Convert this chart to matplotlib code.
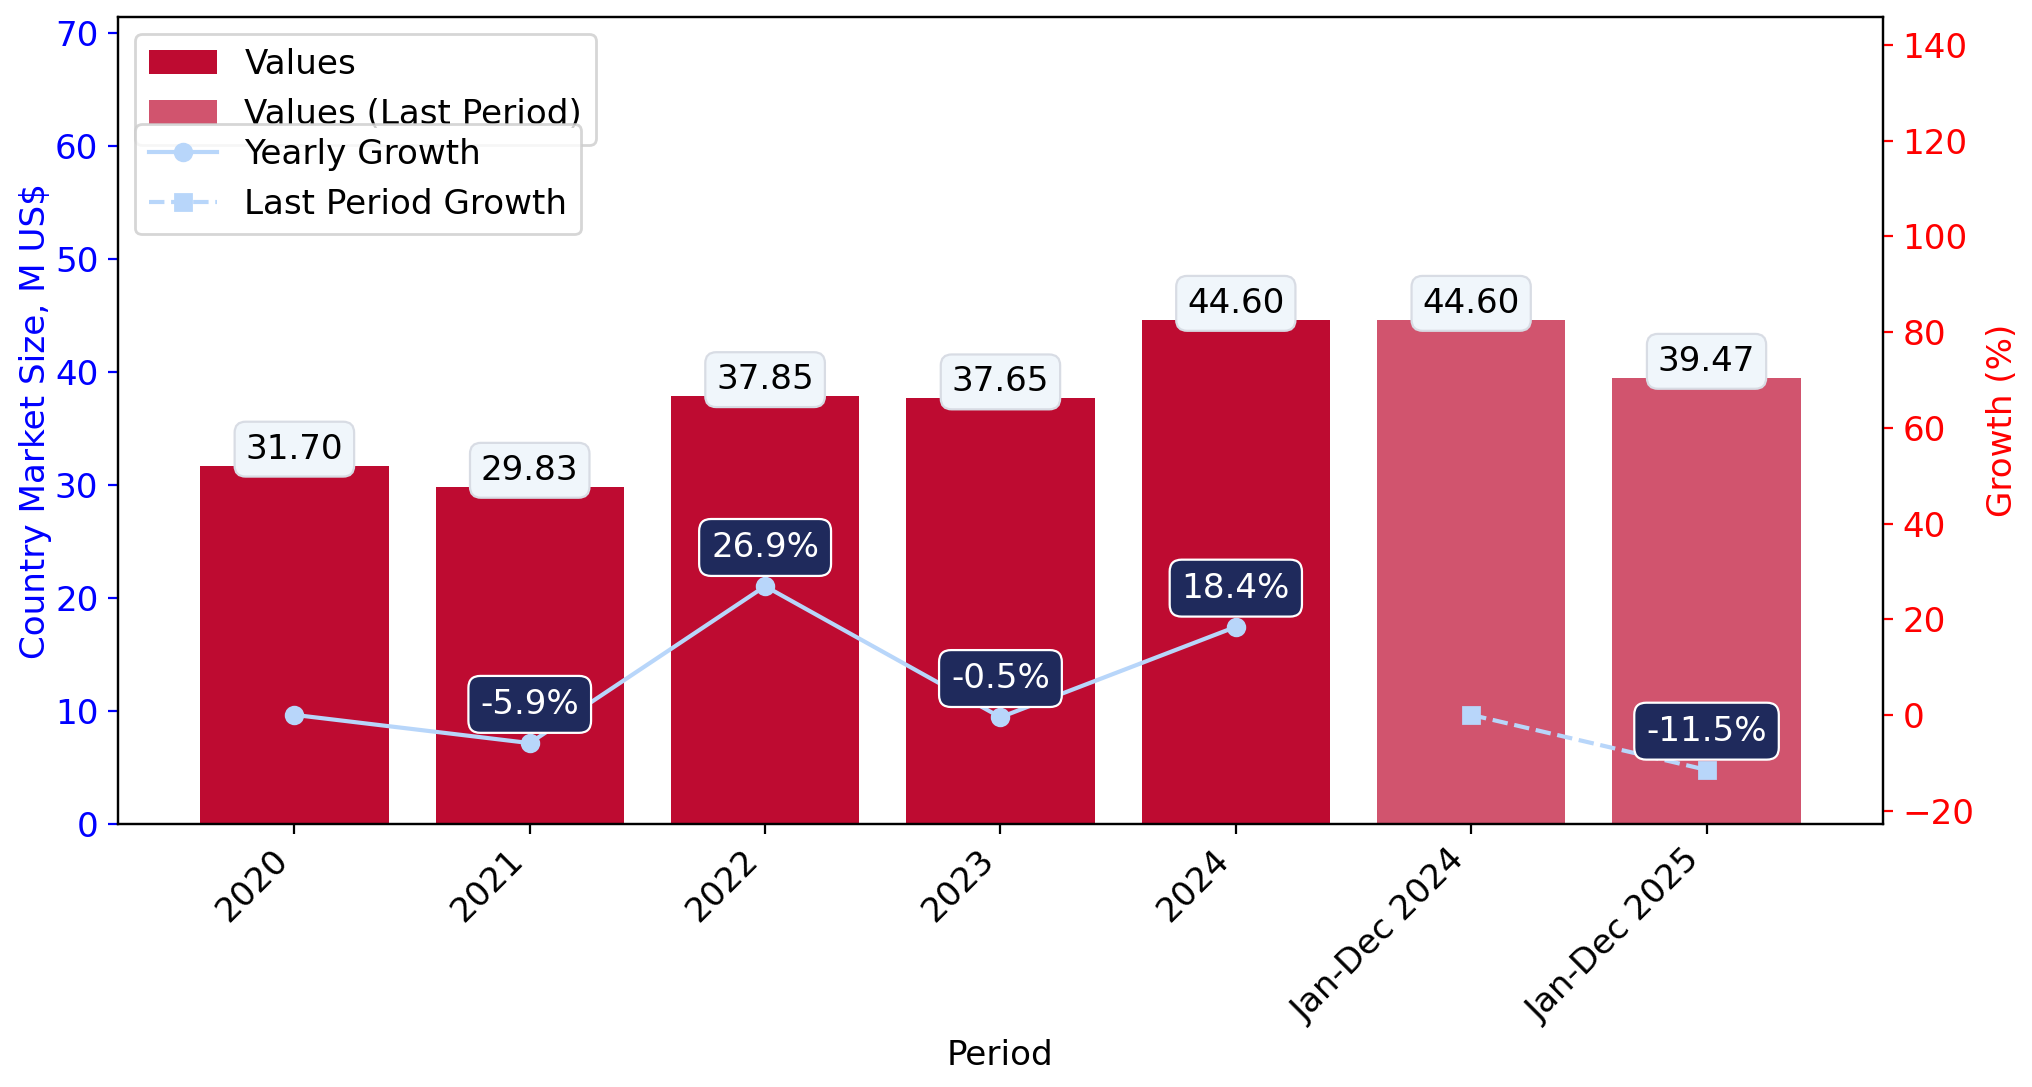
import matplotlib
matplotlib.use("Agg")
import matplotlib.pyplot as plt

periods = ["2020", "2021", "2022", "2023", "2024", "Jan-Dec 2024", "Jan-Dec 2025"]
values = [31.70, 29.83, 37.85, 37.65, 44.60]
last_values = [44.60, 39.47]
yearly_growth = [0.0, -5.9, 26.9, -0.5, 18.4]
last_growth = [0.0, -11.5]

bar_color = "#BE0B31"
line_color = "#B8D6FA"
label_box = "#1F2A5C"

plt.rcParams["font.family"] = ["DejaVu Sans"]
fs = 12.3

fig = plt.figure(figsize=(10.16, 5.435), dpi=200)
ax1 = fig.add_axes([0.058, 0.242, 0.8687, 0.742])
ax2 = ax1.twinx()

n_years = len(values)
x_years = list(range(n_years))
x_last = list(range(n_years, n_years + len(last_values)))

ax1.bar(x_years, values, width=0.8, color=bar_color, label="Values")
ax1.bar(x_last, last_values, width=0.8, color=bar_color, alpha=0.7, label="Values (Last Period)")

for x, v in zip(x_years + x_last, values + last_values):
    ax1.annotate(f"{v:.2f}", (x, v), xytext=(0, 0), textcoords="offset points",
                 ha="center", va="bottom", fontsize=fs, color="black",
                 bbox=dict(boxstyle="round,pad=0.32", fc="#F0F6FB", ec="#D8DCE4", lw=0.8))

ax1.set_ylim(0, 71.36)
ax1.set_xlim(-0.75, len(periods) - 0.25)
ax1.set_xticks(range(len(periods)))
ax1.set_xticklabels(periods, rotation=45, ha="right", fontsize=fs)
ax1.set_xlabel("Period", fontsize=fs)
ax1.set_ylabel("Country Market Size, M US$", color="blue", fontsize=fs, labelpad=1)
ax1.tick_params(axis="y", colors="blue", labelsize=fs)
ax1.tick_params(axis="x", labelsize=fs)

ax2.plot(x_years, yearly_growth, color=line_color, marker="o", markersize=6, lw=1.5, label="Yearly Growth")
ax2.plot(x_last, last_growth, color=line_color, marker="s", markersize=6, lw=1.5, ls="--", label="Last Period Growth")

for i, (x, g) in enumerate(zip(x_years, yearly_growth)):
    if i == 0:
        continue
    ax2.annotate(f"{g:.1f}%", (x, g), xytext=(0, 8), textcoords="offset points",
                 ha="center", va="bottom", fontsize=fs, color="white",
                 bbox=dict(boxstyle="round,pad=0.35", fc=label_box, ec="white", lw=0.8))
for i, (x, g) in enumerate(zip(x_last, last_growth)):
    if i == 0:
        continue
    ax2.annotate(f"{g:.1f}%", (x, g), xytext=(0, 8), textcoords="offset points",
                 ha="center", va="bottom", fontsize=fs, color="white",
                 bbox=dict(boxstyle="round,pad=0.35", fc=label_box, ec="white", lw=0.8))

ax2.set_ylim(-22.8, 145.8)
ax2.set_ylabel("Growth (%)", color="red", fontsize=fs)
ax2.tick_params(axis="y", colors="red", labelsize=fs)

ax1.legend(loc="upper left", fontsize=fs)
ax2.legend(loc="upper left", bbox_to_anchor=(0, 0.889), fontsize=fs)

fig.savefig("out.png", dpi=200)
